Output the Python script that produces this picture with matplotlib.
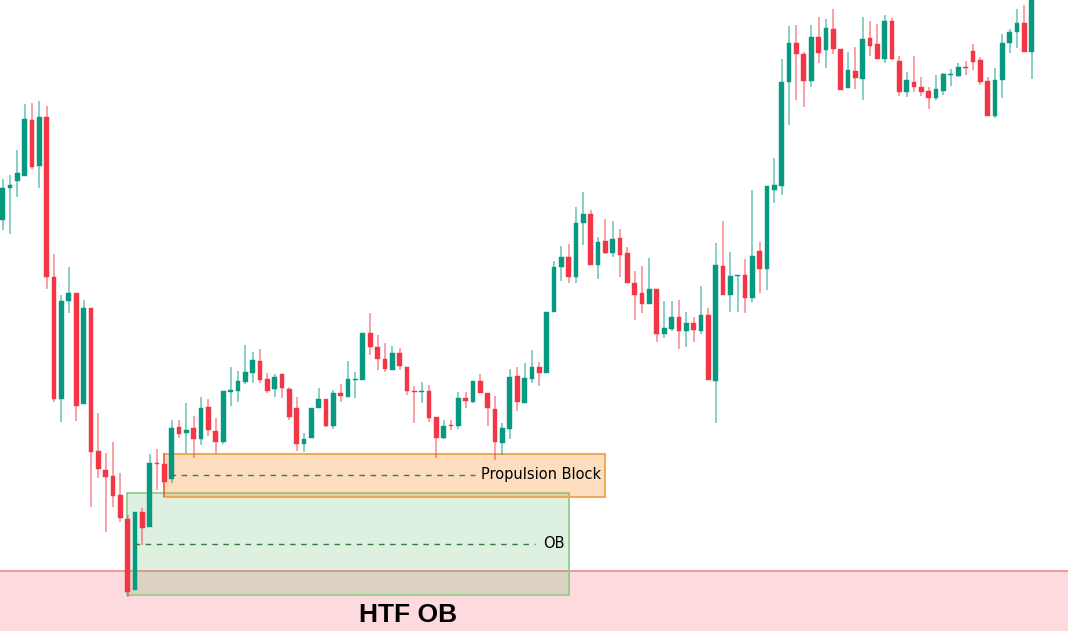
import matplotlib
matplotlib.use("Agg")
import matplotlib.pyplot as plt
from matplotlib.patches import Rectangle

# candle prices (left to right)
opens = [411, 443, 450.3, 455, 511, 465, 514.3, 354.3, 231.7, 329.7,
         337.7, 226.7, 323, 180, 161, 155, 136, 112, 41, 118.7,
         104.3, 168, 167, 151.7, 203.7, 197.7, 203.3, 191.7, 223.7, 200.3,
         188.7, 238.7, 240.3, 249.3, 258.3, 270, 252.3, 241.7, 256.7, 242,
         222.7, 187, 192.7, 223.3, 231.7, 205.3, 237.7, 234.3, 250.7, 251,
         297.7, 283.7, 271.7, 261, 278.3, 264.3, 240, 239.3, 240.3, 214.3,
         192.7, 206, 205, 233, 229.3, 250, 237.7, 221.7, 187.7, 201.7,
         255, 227.7, 252, 264.3, 258.3, 318.7, 364.3, 374.3, 354.3, 408.3,
         416.7, 366, 390, 378.3, 393.3, 377.7, 347.7, 337.7, 327, 341.7,
         296.7, 301.7, 313.7, 300.3, 307.7, 300.3, 316, 250, 365.3, 336,
         355, 356, 332.7, 380.3, 362, 441, 445, 548.7, 588.3, 577,
         550.3, 593.7, 581, 602, 581.7, 542.7, 560.3, 552, 592.7, 586.7,
         571.7, 610.3, 570.3, 539.3, 549.3, 543.7, 540, 532.7, 540.3, 556,
         555, 564.3, 580, 571, 550.3, 515, 551, 587.7, 598.7, 608.3,
         579.3]
highs = [452, 456, 481, 527, 527.7, 530, 525.3, 377, 336, 364.3,
         338, 331, 323, 217.7, 177.7, 189.3, 158.3, 116, 118.7, 122.7,
         176.7, 181.7, 177.7, 211, 211, 227.7, 215.3, 233.7, 231.7, 213.3,
         240, 264.3, 260.3, 286, 278.7, 281.7, 257.7, 257, 256.7, 244.3,
         233.7, 198.3, 223.3, 242.7, 231.7, 241, 246.7, 270, 258.7, 297.7,
         318, 296, 287.7, 285, 282.7, 264.3, 245, 249, 246, 214.3,
         211, 211, 238.7, 239.3, 250, 257, 237.7, 235, 207.7, 261.7,
         264.3, 267.7, 281, 269.3, 318.7, 370.3, 385, 387, 424.3, 439,
         421, 394.3, 411.7, 410.3, 401.7, 384.3, 360.3, 365, 372.7, 341.7,
         330.3, 330.3, 331, 319.3, 314.3, 345, 322.7, 387.7, 410.3, 378.7,
         356, 372, 441, 388.7, 445.3, 472.7, 571.7, 605, 606, 579.3,
         606, 614.3, 611.7, 621.7, 581.7, 578.7, 583.7, 614.3, 610.3, 607,
         616, 612.7, 575, 559.3, 575, 553.7, 544.3, 556, 558.3, 561.7,
         567.7, 570.3, 586.7, 574.3, 553.7, 563.3, 596.7, 601.7, 621.7, 626,
         640]
lows = [401, 397, 434.3, 455, 462.3, 443, 342, 229.3, 209.3, 318.3,
        210, 226.7, 123.7, 152.7, 99.3, 124.3, 109.3, 34.3, 41, 86,
        104.3, 141, 134, 148.3, 192.7, 177.7, 173.3, 186, 195.3, 177.7,
        186.7, 225, 229.3, 247, 248.3, 248.3, 238.3, 234.3, 232.7, 211,
        180.3, 179.3, 192.7, 223.3, 204.3, 201.7, 229.3, 234.3, 232.7, 251,
        276, 261, 259.3, 261, 261, 236, 208.3, 228.3, 209.3, 172.7,
        191.7, 201, 201.7, 222.7, 227.7, 238.3, 205, 171, 176, 191.7,
        220.3, 227.7, 247.7, 245, 258.3, 318.7, 350.3, 347.7, 348.3, 386,
        366, 351.7, 377, 373.7, 353.7, 348.3, 311, 317.7, 327, 289.3,
        292.7, 300.3, 281.7, 284.3, 289.3, 297, 251, 207.7, 336, 319.3,
        319.3, 318.3, 329.3, 338.3, 341, 428.3, 436, 506, 531, 524.3,
        543.7, 568.3, 563.3, 577, 541, 542.7, 541.7, 531, 575, 571.7,
        567.7, 571, 535, 534.3, 539.3, 535, 521.7, 531, 536, 545,
        553.7, 556, 561, 546, 515, 512.7, 532.7, 578.3, 582.7, 579.3,
        552]
closes = [443, 446, 458.3, 512, 464.3, 514.3, 353.7, 231.7, 330.3, 338.3,
          225, 323, 179.3, 161.7, 154.3, 135, 112.7, 39.3, 118.7, 102.7,
          167.7, 167, 149.3, 203.3, 196.7, 201, 191.7, 222.7, 201, 188.7,
          240, 241.3, 250.3, 258.7, 271, 251, 240.3, 253.7, 242.7, 213.7,
          187, 192, 223.3, 231.7, 205.3, 237.7, 235.3, 251.7, 251.7, 297.7,
          284.3, 272.3, 261.7, 277.7, 265, 240.3, 238.7, 240.3, 212.7, 192.7,
          205, 205, 232.7, 230.3, 250, 238.3, 222.7, 188.7, 202.7, 254.3,
          229.3, 253.3, 264.3, 257.7, 318.7, 363.7, 374.3, 354.3, 408.3, 416.7,
          366, 389.3, 378.3, 392.3, 376, 348.3, 336, 327, 341.7, 297,
          302.7, 313.7, 300.3, 307.7, 301, 316, 251, 366, 336, 355.3,
          356, 333.3, 375, 362, 445.3, 446, 549.3, 588.3, 576.7, 550.3,
          593.7, 578.3, 602.7, 582, 541, 561, 553.3, 591.7, 585.3, 571.7,
          610.3, 571.7, 539.3, 551, 544.3, 539.3, 532.7, 541.7, 557, 557,
          563.7, 563.3, 569.3, 549.3, 515, 551, 588.3, 599.3, 607.7, 579.3,
          635]

GREEN = "#089981"
RED = "#F23645"


def draw_candles(ax):
    x = list(range(len(opens)))
    cols = [GREEN if c >= o else RED for o, c in zip(opens, closes)]
    bottoms = [min(o, c) for o, c in zip(opens, closes)]
    heights = [max(abs(c - o), 1.2) for o, c in zip(opens, closes)]
    ax.vlines(x, lows, highs, colors=cols, linewidth=1.1, alpha=0.6, zorder=3)
    ax.bar(x, heights, bottom=bottoms, width=0.64, color=cols,
           edgecolor=cols, linewidth=0.3, zorder=4)


def draw_zones(ax):
    # HTF order block zone along the bottom
    ax.add_patch(Rectangle((-1, -20), 150, 80.3, facecolor=RED, alpha=0.18,
                           edgecolor="none", zorder=1))
    ax.axhline(60.3, color="#ee8a8f", linewidth=1.2, zorder=1)

    # OB box
    ax.add_patch(Rectangle((16.95, 36), 60.1, 102.3, facecolor="#4CAF50",
                           alpha=0.18, edgecolor="none", zorder=2))
    ax.add_patch(Rectangle((16.95, 36), 60.1, 102.3, facecolor="none",
                           edgecolor="#8fcf8c", linewidth=1.3, zorder=2))
    ax.hlines(87, 17.9, 72.4, colors="#3d7a45", linestyles=(0, (4, 4)),
              linewidth=1, zorder=5)
    ax.text(73.5, 87, "OB", fontsize=10.5, va="center", ha="left", zorder=6)

    # propulsion block box
    ax.add_patch(Rectangle((21.95, 133.7), 60.05, 43, facecolor="#F57C00",
                           alpha=0.25, edgecolor="none", zorder=2))
    ax.add_patch(Rectangle((21.95, 133.7), 60.05, 43, facecolor="none",
                           edgecolor="#f5a04a", linewidth=1.3, zorder=2))
    ax.hlines(156, 22.8, 64.3, colors="#3d7a45", linestyles=(0, (4, 4)),
              linewidth=1, zorder=5)
    ax.text(65.1, 156, "Propulsion Block", fontsize=10.5, va="center",
            ha="left", zorder=6)

    ax.text(55.2, 16, "HTF OB", fontsize=19, fontweight="bold",
            family="Liberation Sans", va="center", ha="center", zorder=6)


fig = plt.figure(figsize=(10.68, 6.31), dpi=100)
ax = fig.add_axes([0, 0, 1, 1])
draw_zones(ax)
draw_candles(ax)
ax.set_xlim(-0.367, 144.94)
ax.set_ylim(0, 631)
ax.axis("off")
fig.savefig("out.png", dpi=100)
